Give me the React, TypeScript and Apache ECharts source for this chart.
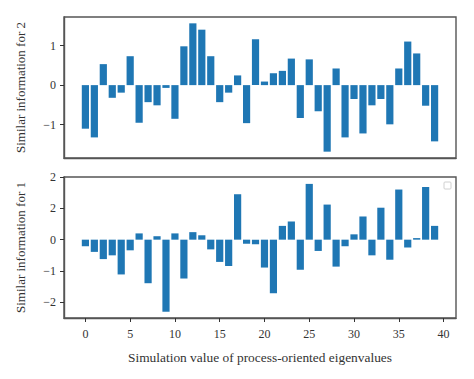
import React, { useEffect, useRef } from "react";
import * as echarts from "echarts";

const xValues = Array.from({ length: 40 }, (_, i) => i);
const info2 = [
  -1.1, -1.32, 0.53, -0.32, -0.19, 0.73, -0.95, -0.43, -0.51, -0.07,
  -0.85, 0.98, 1.56, 1.4, 0.73, -0.43, -0.19, 0.245, -0.96, 1.16,
  0.09, 0.3, 0.36, 0.67, -0.83, 0.65, -0.66, -1.68, 0.42, -1.32,
  -0.35, -1.22, -0.51, -0.35, -0.99, 0.42, 1.1, 0.8, -0.52, -1.42,
];
const info1 = [
  -0.21, -0.39, -0.62, -0.5, -1.11, -0.34, 0.2, -1.39, 0.11, -2.3,
  0.2, -1.24, 0.24, 0.14, -0.31, -0.71, -0.84, 1.45, -0.13, -0.15,
  -0.89, -1.71, 0.44, 0.58, -0.96, 1.78, -0.36, 1.12, -0.86, -0.21,
  0.17, 0.74, -0.5, 1.02, -0.64, 1.6, -0.25, 0.05, 1.68, 0.44,
];
const xTickValues = [0, 5, 10, 15, 20, 25, 30, 35, 40];
const topTickValues = [-1, 0, 1];
const topTickLabels = ["−1", "0", "1"];
const bottomTickValues = [-2, -1, 0, 1, 2];
const bottomTickLabels = ["−2", "−1", "0", "2", "2"];

const FONT = "'Liberation Serif', 'DejaVu Serif', serif";
const BAR = "#1f77b4";
const FRAME = "#555555";

export default function App() {
  const ref = useRef<HTMLDivElement>(null);
  useEffect(() => {
    document.body.style.margin = "0";
    const chart = echarts.init(ref.current!, null, { renderer: "svg" });
    const baseX = {
      type: "value" as const,
      min: -2.39,
      max: 41.39,
      splitLine: { show: false },
      axisLine: { show: true, onZero: false, lineStyle: { color: FRAME, width: 1.4 } },
    };
    const baseY = {
      type: "value" as const,
      splitLine: { show: false },
      axisLine: { show: true, onZero: false, lineStyle: { color: FRAME, width: 1.4 } },
      nameLocation: "middle" as const,
      nameTextStyle: { fontFamily: FONT, fontSize: 13, color: "#333" },
    };
    chart.setOption({
      animation: false,
      grid: [
        { left: 64, right: 18, top: 17, height: 141, show: true, borderColor: FRAME, borderWidth: 1.4 },
        { left: 64, right: 18, top: 177, height: 141, show: true, borderColor: FRAME, borderWidth: 1.4 },
      ],
      xAxis: [
        {
          ...baseX,
          gridIndex: 0,
          axisTick: { show: false },
          axisLabel: { show: false },
        },
        {
          ...baseX,
          gridIndex: 1,
          axisTick: { show: true, customValues: xTickValues, length: 4, lineStyle: { color: "#333" } },
          axisLabel: {
            customValues: xTickValues,
            fontFamily: FONT,
            fontSize: 12,
            color: "#333",
            margin: 10,
          },
          name: "Simulation value of process-oriented eigenvalues",
          nameLocation: "middle",
          nameGap: 33,
          nameTextStyle: { fontFamily: FONT, fontSize: 13.4, color: "#333" },
        },
      ],
      yAxis: [
        {
          ...baseY,
          gridIndex: 0,
          min: -1.84,
          max: 1.72,
          axisTick: { show: true, customValues: topTickValues, length: 4, lineStyle: { color: "#333" } },
          axisLabel: {
            customValues: topTickValues,
            formatter: (v: number) => topTickLabels[topTickValues.indexOf(v)] ?? "",
            fontFamily: FONT,
            fontSize: 12,
            color: "#333",
            margin: 8,
          },
          name: "Similar information for 2",
          nameGap: 37,
        },
        {
          ...baseY,
          gridIndex: 1,
          min: -2.5,
          max: 2,
          axisTick: { show: true, customValues: bottomTickValues, length: 4, lineStyle: { color: "#333" } },
          axisLabel: {
            customValues: bottomTickValues,
            formatter: (v: number) => bottomTickLabels[bottomTickValues.indexOf(v)] ?? "",
            fontFamily: FONT,
            fontSize: 12,
            color: "#333",
            margin: 8,
          },
          name: "Similar information for 1",
          nameGap: 37,
        },
      ],
      series: [
        {
          type: "bar",
          xAxisIndex: 0,
          yAxisIndex: 0,
          barWidth: 7.2,
          itemStyle: { color: BAR },
          data: xValues.map((x, i) => [x, info2[i]]),
        },
        {
          type: "bar",
          xAxisIndex: 1,
          yAxisIndex: 1,
          barWidth: 7.2,
          itemStyle: { color: BAR },
          data: xValues.map((x, i) => [x, info1[i]]),
        },
      ],
      graphic: [
        {
          type: "rect",
          shape: { x: 444, y: 182, width: 7, height: 7, r: 1 },
          style: { fill: "#fff", stroke: "#d0d0d0", lineWidth: 1 },
        },
      ],
    });
    return () => chart.dispose();
  }, []);
  return <div ref={ref} style={{ width: 474, height: 379 }} />;
}
